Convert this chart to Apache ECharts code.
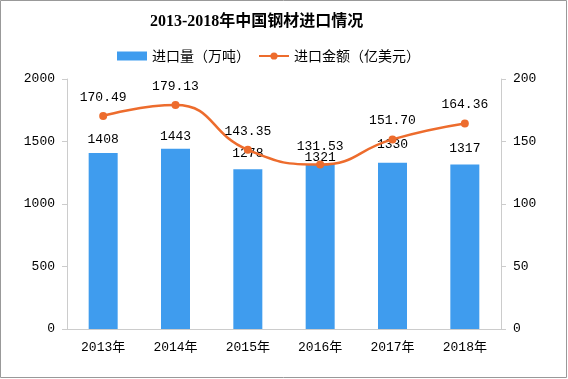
<!DOCTYPE html>
<html><head><meta charset="utf-8">
<script src="https://cdn.jsdelivr.net/npm/echarts@6/dist/echarts.min.js"></script>
<style>html,body{margin:0;padding:0;background:#fff}#c{width:568px;height:379px}</style>
</head><body><div id="c"></div>
<script>
const categories = ['2013年','2014年','2015年','2016年','2017年','2018年'];
const volume = [1408, 1443, 1278, 1321, 1330, 1317];
const amount = [170.49, 179.13, 143.35, 131.53, 151.70, 164.36];
const amountLabels = ['170.49','179.13','143.35','131.53','151.70','164.36'];
const leftTicks = [0, 500, 1000, 1500, 2000];
const rightTicks = [0, 50, 100, 150, 200];

const barLabelDistance = [7, 6, 9, 0, 12, 9];
const font = '"Liberation Mono","DejaVu Sans Mono","Noto Sans CJK SC",monospace';
const chart = echarts.init(document.getElementById('c'));
chart.setOption({
  animation: false,
  title: {
    text: '2013-2018年中国钢材进口情况', left: 145, top: 9,
    textStyle: {fontSize: 16, fontWeight: 'bold', color: '#000', fontFamily: '"Liberation Serif","Noto Sans CJK SC",serif'}
  },
  legend: {
    top: 44, left: 112, itemGap: 8, itemWidth: 30, itemHeight: 9,
    textStyle: {fontSize: 14, color: '#000', fontFamily: '"Noto Sans CJK SC",sans-serif'},
    data: [{name: '进口量（万吨）', icon: 'rect'}, {name: '进口金额（亿美元）'}]
  },
  grid: {left: 67, right: 67, top: 79, bottom: 50},
  xAxis: {
    type: 'category', data: categories,
    axisLine: {lineStyle: {color: '#ccc'}},
    axisTick: {lineStyle: {color: '#ccc'}},
    axisLabel: {color: '#000', fontSize: 13, fontFamily: font, margin: 12}
  },
  yAxis: [{
    type: 'value', min: 0, max: 2000, interval: 500,
    axisLine: {show: true, lineStyle: {color: '#ccc'}},
    axisTick: {show: true, lineStyle: {color: '#ccc'}},
    splitLine: {show: false},
    axisLabel: {color: '#000', fontSize: 13, fontFamily: font, margin: 12,
      formatter: v => leftTicks.includes(v) ? String(v) : ''}
  }, {
    type: 'value', min: 0, max: 200, interval: 50,
    axisLine: {show: true, lineStyle: {color: '#ccc'}},
    axisTick: {show: true, lineStyle: {color: '#ccc'}},
    splitLine: {show: false},
    axisLabel: {color: '#000', fontSize: 13, fontFamily: font, margin: 12,
      formatter: v => rightTicks.includes(v) ? String(v) : ''}
  }],
  series: [{
    name: '进口量（万吨）', type: 'bar', barWidth: 29,
    data: volume.map((v, i) => ({value: v, label: {distance: barLabelDistance[i]}})),
    itemStyle: {color: '#3f9cee'},
    label: {show: true, position: 'top', color: '#000', fontSize: 13, fontFamily: font}
  }, {
    name: '进口金额（亿美元）', type: 'line', yAxisIndex: 1, data: amount, smooth: true,
    symbol: 'circle', symbolSize: 8,
    lineStyle: {color: '#ed6c2d', width: 2.5},
    itemStyle: {color: '#ed6c2d'},
    label: {show: true, position: 'top', color: '#000', fontSize: 13, fontFamily: font, distance: 8,
      formatter: p => amountLabels[p.dataIndex]}
  }],
  graphic: [{type: 'rect', shape: {x: 0.5, y: 0.5, width: 566, height: 377}, style: {fill: null, stroke: '#999', lineWidth: 1}, silent: true}]
});
</script></body></html>
